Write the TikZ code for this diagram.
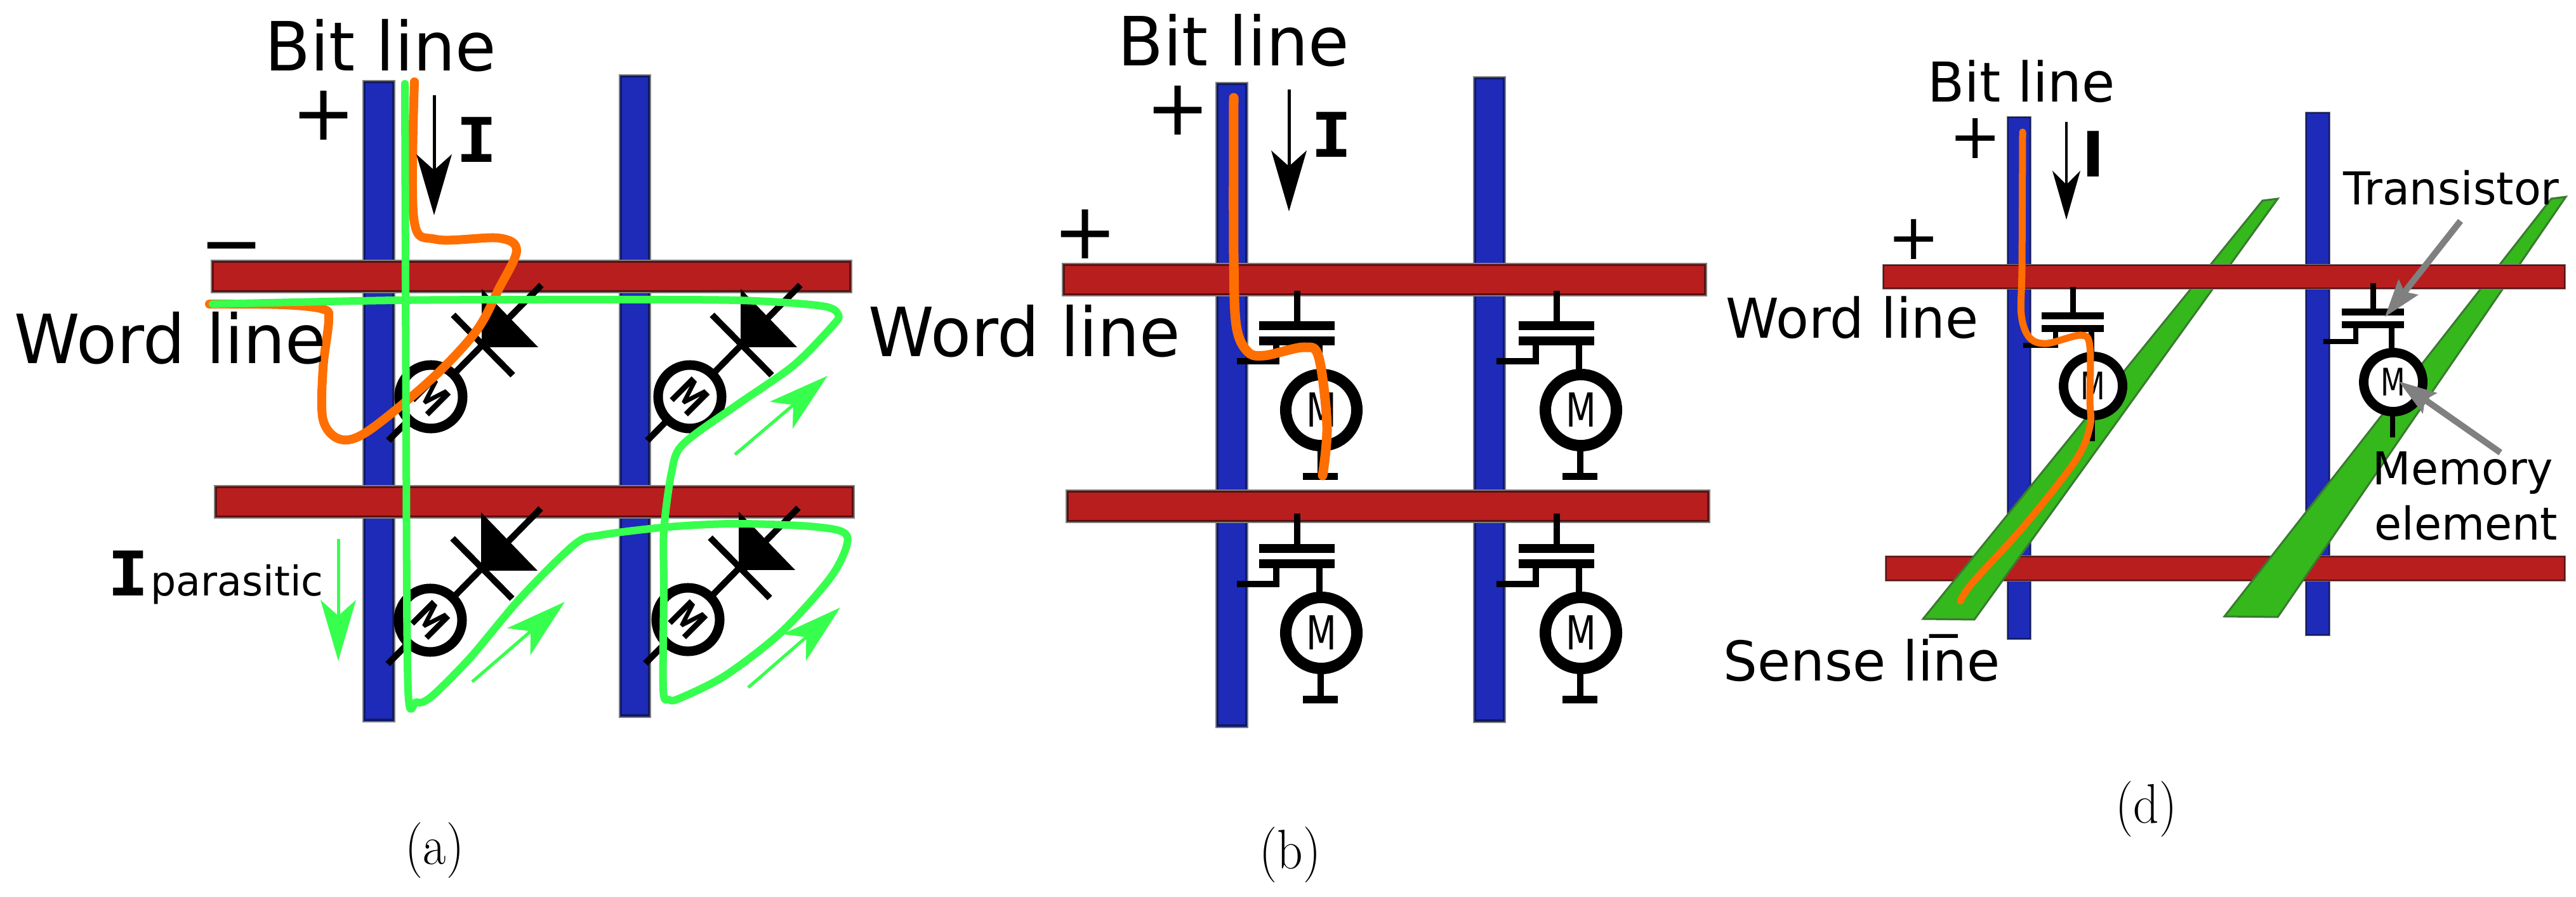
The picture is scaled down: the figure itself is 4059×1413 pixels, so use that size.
\documentclass[tikz,border=0pt]{standalone}
\usepackage{fontspec}
\usetikzlibrary{arrows.meta}
\newfontfamily\lblfont[FakeStretch=0.98]{DejaVu Sans}
\newfontfamily\memfont[FakeStretch=0.75]{DejaVu Sans}
\newfontfamily\curfont[FakeStretch=1.12]{DejaVu Sans Mono}
\definecolor{wireblue}{RGB}{30,42,184}
\definecolor{wirebluedark}{RGB}{15,26,99}
\definecolor{wirered}{RGB}{184,30,30}
\definecolor{wirereddark}{RGB}{92,16,16}
\definecolor{sensegreen}{RGB}{52,184,28}
\definecolor{sensedark}{RGB}{58,122,48}
\definecolor{pathorange}{RGB}{255,110,0}
\definecolor{pathgreen}{RGB}{55,255,77}
\definecolor{rimgrey}{RGB}{128,128,128}
\begin{document}
\begin{tikzpicture} [x=0.01cm,y=-0.01cm,
	bluebar/.style={
		preaction={draw=rimgrey,line width=0.07cm},
		draw=wirebluedark,fill=wireblue,line width=0.03cm},
	redbar/.style={
		preaction={draw=rimgrey,line width=0.07cm},
		draw=wirereddark,fill=wirered,line width=0.03cm},
	bluethin/.style={
		preaction={draw=rimgrey,line width=0.04cm},
		draw=wirebluedark,fill=wireblue,line width=0.02cm},
	redthin/.style={
		preaction={draw=rimgrey,line width=0.04cm},
		draw=wirereddark,fill=wirered,line width=0.02cm},
	senseline/.style={draw=sensedark,fill=sensegreen,line width=0.03cm},
	lab/.style={inner sep=0pt,anchor=base west},
	biglab/.style={lab,font=\lblfont\fontsize{30.4}{36}\selectfont},
	midlab/.style={lab,font=\lblfont\fontsize{24.6}{30}\selectfont},
	smalllab/.style={lab,font=\lblfont\fontsize{20.3}{24}\selectfont},
	sign/.style={inner sep=0pt,anchor=base},
	caption/.style={inner sep=0pt,xscale=0.9,transform shape,font=\fontsize{25}{28}\selectfont},
	curlabel/.style={inner sep=0pt,anchor=base,font=\curfont\bfseries\fontsize{27.6}{32}\selectfont},
	curtip/.style={-{Stealth[length=0.96cm,width=0.56cm,inset=0.25cm,line width=0pt]},line width=0.05cm},
	pointer/.style={-{Stealth[length=0.6cm,width=0.4cm,inset=0.1cm,line width=0pt]},draw=rimgrey,line width=0.1cm},
	orangepath/.style={draw=pathorange,line width=0.14cm,line cap=round,line join=round},
	greenpath/.style={draw=pathgreen,line width=0.12cm,line cap=round,line join=round}]
\useasboundingbox (0,0) rectangle (4059,1413);

% (a)
\draw[bluebar] (574,130) rectangle (619,1134);
\draw[bluebar] (978,121) rectangle (1022,1127);
\draw[redbar] (335,413) rectangle (1339,459);
\draw[redbar] (340,768) rectangle (1343,814);
\foreach \cx/\cy/\cname in {679/625/a1,1087/625/a2,678/977/a3,1084/976/a4} {
	\begin{scope}[shift={(\cx,\cy)}]
	\draw[line width=0.1cm] (-67,69) -- (174,-176);
	\draw[line width=0.1cm] (35,-129) -- (129,-34);
	\fill (80,-170) -- (80,-78) -- (169,-78) -- cycle;
	\node[circle,draw,fill=white,line width=0.15cm,minimum size=1cm,inner sep=0pt] (mem \cname) at (0,0) {};
	\node[inner sep=0pt,rotate=-45,font=\memfont\bfseries\fontsize{19}{22}\selectfont] (mem text \cname) at (0,0) {M};
	\end{scope}
}
\draw[orangepath] plot[smooth,tension=0.55] coordinates {(653,129) (652,344) (687,377) (786,375) (814,395) (786,455) (750,522) (679,598) (580,679) (536,692) (509,661) (509,580) (518,504) (509,487) (446,480) (330,479)};
\draw[greenpath] plot[smooth,tension=0.5] coordinates {(335,479) (625,473) (893,472) (1161,473) (1295,482) (1321,496) (1312,513) (1250,576) (1161,638) (1076,700) (1058,745) (1046,836) (1046,927) (1045,1086) (1054,1102) (1071,1100) (1143,1064) (1232,995) (1312,905) (1335,845) (1286,830) (1161,825) (1054,830) (946,843) (906,857) (821,941) (741,1036) (679,1098) (656,1106) (643,1086) (640,700) (638,132)};
\draw[curtip] (684,150) -- (684,339);
\draw[curtip,draw=pathgreen,fill=pathgreen] (533,849) -- (533,1041);
\draw[curtip,draw=pathgreen,fill=pathgreen] (1158,716) -- (1304,592);
\draw[curtip,draw=pathgreen,fill=pathgreen] (744,1074) -- (890,948);
\draw[curtip,draw=pathgreen,fill=pathgreen] (1179,1083) -- (1324,957);
\node[biglab] (bit a) at (417,112) {Bit line};
\node[biglab] (word a) at (22,573) {Word line};
\node[sign,font=\lblfont\fontsize{35}{40}\selectfont] (plus a) at (510,221) {+};
\node[sign,font=\lblfont\fontsize{35}{40}\selectfont] (minus a) at (365,426) {−};
\node[curlabel] (cur a) at (751,256) {I};
\node[curlabel] (par sym) at (202,939) {I};
\node[lab,font=\lblfont\fontsize{18.4}{24}\selectfont] (par text) at (237,939) {parasitic};
\node[caption] (cap a) at (685,1340) {(a)};

% (b)
\draw[bluebar] (1918,133) rectangle (1963,1143);
\draw[bluebar] (2324,124) rectangle (2369,1135);
\draw[redbar] (1676,418) rectangle (2686,464);
\draw[redbar] (1682,775) rectangle (2691,821);

% (d)
\draw[bluethin] (3164,185) rectangle (3199,1006);
\draw[bluethin] (3634,178) rectangle (3670,1000);
\draw[redthin] (2972,877) rectangle (4041,914);
\draw[senseline] (3565,316) -- (3589,313) -- (3111,976) -- (3030,975) -- cycle;
\draw[senseline] (4020,313) -- (4043,310) -- (3589,972) -- (3505,971) -- cycle;
\draw[redthin] (2968,418) rectangle (4041,454);

\foreach \cx/\cy/\s/\msize/\cname in {2082/646/1/21/b1,2491/646/1/21/b2,2082/997/1/21/b3,2491/997/1/21/b4,3298/608/0.83/17/d1,3771/602/0.83/17/d2} {
	\begin{scope}[shift={(\cx,\cy)},scale=\s]
	\draw[line width=\s*0.1cm] (-38,-188) -- (-38,-133);
	\draw[line width=\s*0.14cm] (-98,-133) -- (21,-133);
	\draw[line width=\s*0.14cm] (-98,-109) -- (21,-109);
	\draw[line width=\s*0.1cm] (-71,-109) -- (-71,-77) -- (-133,-77);
	\draw[line width=\s*0.1cm] (-3,-109) -- (-3,-60);
	\draw[line width=\s*0.1cm] (-1,60) -- (-1,105);
	\node[circle,draw,fill=white,line width=\s*0.18cm,minimum size=\s*1.12cm,inner sep=0pt] (mem \cname) at (0,0) {};
	\node[inner sep=0pt,font=\memfont\fontsize{\msize}{\msize}\selectfont] (mem text \cname) at (0,0) {M};
	\end{scope}
}
\foreach \cx/\cy in {2082/646,2491/646,2082/997,2491/997} {
	\draw[line width=0.11cm] (\cx-29,\cy+105) -- (\cx+26,\cy+105);
}

% (b) path and labels
\draw[orangepath,line width=0.15cm] plot[smooth,tension=0.55] coordinates {(1944,154) (1944,402) (1948,513) (1966,554) (1993,560) (2055,547) (2078,563) (2091,670) (2084,749)};
\draw[curtip] (2031,141) -- (2031,333);
\node[biglab] (bit b) at (1761,104) {Bit line};
\node[biglab] (word b) at (1368,562) {Word line};
\node[sign,font=\lblfont\fontsize{35}{40}\selectfont] (plus b) at (1856,213) {+};
\node[sign,font=\lblfont\fontsize{35}{40}\selectfont] (plus word b) at (1710,408) {+};
\node[curlabel] (cur b) at (2098,248) {I};
\node[caption] (cap b) at (2033,1347) {(b)};

% (d) path and labels
\draw[orangepath,line width=0.11cm] plot[smooth,tension=0.55] coordinates {(3187,208) (3186,420) (3185,496) (3198,532) (3225,541) (3279,528) (3293,546) (3293,630) (3293,672) (3270,726) (3189,829) (3108,918) (3089,947)};
\draw[curtip,-{Stealth[length=0.77cm,width=0.44cm,inset=0.22cm,line width=0pt]},line width=0.04cm] (3256,192) -- (3256,346);
\draw[pointer] (3877,348) -- (3758,499);
\draw[pointer] (3940,713) -- (3780,601);
\node[midlab] (bit d) at (3037,161) {Bit line};
\node[midlab] (word d) at (2719,533) {Word line};
\node[midlab] (sense d) at (2715,1072) {Sense line};
\node[smalllab] (tran d) at (3692,323) {Transistor};
\node[smalllab] (mem1 d) at (3738,764) {Memory};
\node[smalllab] (mem2 d) at (3741,851) {element};
\node[sign,font=\lblfont\fontsize{28.5}{32}\selectfont] (plus d) at (3113,250) {+};
\node[sign,font=\lblfont\fontsize{28.5}{32}\selectfont] (plus word d) at (3016,409) {+};
\node[sign,font=\lblfont\fontsize{21}{24}\selectfont] (minus d) at (3063,1025) {−};
\node[sign,font=\lblfont\bfseries\fontsize{28}{32}\selectfont] (cur d) at (3298,279) {I};
\node[caption] (cap d) at (3382,1275) {(d)};
\end{tikzpicture}
\end{document}
